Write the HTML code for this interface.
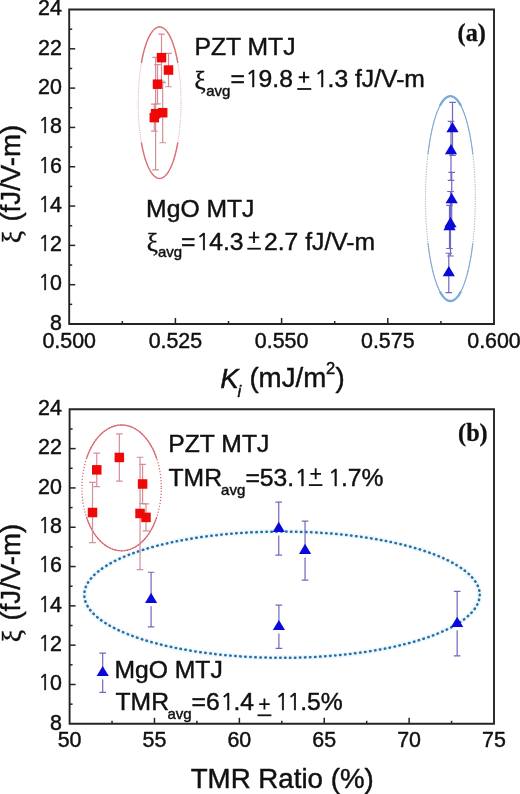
<!DOCTYPE html>
<html><head><meta charset="utf-8"><title>plot</title><style>
html,body{margin:0;padding:0;background:#fff;overflow:hidden;}
svg{display:block;}
text{font-family:"Liberation Sans",Arial,sans-serif;fill:#111;stroke:#111;stroke-width:0.45px;}
.tk{font-size:21.4px;}
.an{font-size:24.7px;}
.sb{font-size:15px;}
.sb2{font-size:16.5px;}
.at{font-size:27.7px;}
.it{font-style:italic;}
.one{font-family:"NanumGothic","Liberation Sans",sans-serif;}
.lb{font-family:"Liberation Serif","Times New Roman",serif;font-weight:bold;font-size:24.2px;stroke-width:0.3px;}
.xi{font-family:"Liberation Serif","Times New Roman",serif;}
.xa4{font-size:100px;stroke-width:1.8px;}
.xy4{font-size:112px;stroke-width:1.8px;}
</style></head><body>
<svg width="520" height="794" viewBox="0 0 520 794">
<rect width="520" height="794" fill="#fff"/>
<ellipse cx="159.6" cy="102.7" rx="21.4" ry="75.8" fill="none" stroke="#dcaab0" stroke-width="1.0" stroke-dasharray="1.1 1.1"/>
<path d="M141.45 62.53 L142.05 59.33 L142.69 56.24 L143.38 53.27 L144.1 50.43 L144.87 47.72 L145.67 45.15 L146.51 42.73 L147.39 40.46 L148.29 38.35 L149.23 36.4 L150.19 34.63 L151.17 33.03 L152.18 31.61 L153.2 30.37 L154.24 29.31 L155.3 28.45 L156.36 27.77 L157.44 27.29 L158.52 27 L159.6 26.9 L160.68 27 L161.76 27.29 L162.84 27.77 L163.9 28.45 L164.96 29.31 L166 30.37 L167.02 31.61 L168.03 33.03 L169.01 34.63 L169.97 36.4 L170.91 38.35 L171.81 40.46 L172.69 42.73 L173.53 45.15 L174.33 47.72 L175.1 50.43 L175.82 53.27 L176.51 56.24 L177.15 59.33 L177.75 62.53" fill="none" stroke="#dc6d76" stroke-width="1.4" stroke-linecap="round"/>
<path d="M177.75 142.87 L177.15 146.07 L176.51 149.16 L175.82 152.13 L175.1 154.97 L174.33 157.68 L173.53 160.25 L172.69 162.67 L171.81 164.94 L170.91 167.05 L169.97 169 L169.01 170.77 L168.03 172.37 L167.02 173.79 L166 175.03 L164.96 176.09 L163.9 176.95 L162.84 177.63 L161.76 178.11 L160.68 178.4 L159.6 178.5 L158.52 178.4 L157.44 178.11 L156.36 177.63 L155.3 176.95 L154.24 176.09 L153.2 175.03 L152.18 173.79 L151.17 172.37 L150.19 170.77 L149.23 169 L148.29 167.05 L147.39 164.94 L146.51 162.67 L145.67 160.25 L144.87 157.68 L144.1 154.97 L143.38 152.13 L142.69 149.16 L142.05 146.07 L141.45 142.87" fill="none" stroke="#dc6d76" stroke-width="1.4" stroke-linecap="round"/>
<ellipse cx="450.4" cy="198.6" rx="24.9" ry="102.4" fill="none" stroke="#9ea6b3" stroke-width="1.0" stroke-dasharray="1.2 1.3"/>
<path d="M428.02 153.71 L428.66 148.64 L429.38 143.73 L430.15 138.99 L430.99 134.44 L431.9 130.08 L432.85 125.94 L433.87 122.03 L434.93 118.35 L436.05 114.92 L437.21 111.76 L438.4 108.87 L439.64 106.25 L440.91 103.93 L442.21 101.9 L443.54 100.17 L444.88 98.74 L446.25 97.63 L447.62 96.84 L449.01 96.36 L450.4 96.2 L451.79 96.36 L453.18 96.84 L454.55 97.63 L455.92 98.74 L457.26 100.17 L458.59 101.9 L459.89 103.93 L461.16 106.25 L462.4 108.87 L463.59 111.76 L464.75 114.92 L465.87 118.35 L466.93 122.03 L467.95 125.94 L468.9 130.08 L469.81 134.44 L470.65 138.99 L471.42 143.73 L472.14 148.64 L472.78 153.71" fill="none" stroke="#82a9d2" stroke-width="1.1" stroke-linecap="round"/>
<path d="M472.78 243.49 L472.14 248.56 L471.42 253.47 L470.65 258.21 L469.81 262.76 L468.9 267.12 L467.95 271.26 L466.93 275.17 L465.87 278.85 L464.75 282.28 L463.59 285.44 L462.4 288.33 L461.16 290.95 L459.89 293.27 L458.59 295.3 L457.26 297.03 L455.92 298.46 L454.55 299.57 L453.18 300.36 L451.79 300.84 L450.4 301 L449.01 300.84 L447.62 300.36 L446.25 299.57 L444.88 298.46 L443.54 297.03 L442.21 295.3 L440.91 293.27 L439.64 290.95 L438.4 288.33 L437.21 285.44 L436.05 282.28 L434.93 278.85 L433.87 275.17 L432.85 271.26 L431.9 267.12 L430.99 262.76 L430.15 258.21 L429.38 253.47 L428.66 248.56 L428.02 243.49" fill="none" stroke="#82a9d2" stroke-width="1.1" stroke-linecap="round"/>
<ellipse cx="450.4" cy="198.6" rx="24.9" ry="102.4" fill="none" stroke="none" stroke-width="0" stroke-dasharray="0"/>
<path d="M440.27 105.05 L440.75 104.2 L441.23 103.39 L441.72 102.62 L442.21 101.9 L442.71 101.21 L443.2 100.57 L443.7 99.97 L444.21 99.42 L444.71 98.91 L445.22 98.44 L445.73 98.01 L446.25 97.63 L446.76 97.3 L447.28 97.01 L447.8 96.76 L448.32 96.56 L448.84 96.4 L449.36 96.29 L449.88 96.22 L450.4 96.2 L450.92 96.22 L451.44 96.29 L451.96 96.4 L452.48 96.56 L453 96.76 L453.52 97.01 L454.04 97.3 L454.55 97.63 L455.07 98.01 L455.58 98.44 L456.09 98.91 L456.59 99.42 L457.1 99.97 L457.6 100.57 L458.09 101.21 L458.59 101.9 L459.08 102.62 L459.57 103.39 L460.05 104.2 L460.53 105.05" fill="none" stroke="#78abdc" stroke-width="2.3" stroke-linecap="round"/>
<path d="M460.53 292.15 L460.05 293 L459.57 293.81 L459.08 294.58 L458.59 295.3 L458.09 295.99 L457.6 296.63 L457.1 297.23 L456.59 297.78 L456.09 298.29 L455.58 298.76 L455.07 299.19 L454.55 299.57 L454.04 299.9 L453.52 300.19 L453 300.44 L452.48 300.64 L451.96 300.8 L451.44 300.91 L450.92 300.98 L450.4 301 L449.88 300.98 L449.36 300.91 L448.84 300.8 L448.32 300.64 L447.8 300.44 L447.28 300.19 L446.76 299.9 L446.25 299.57 L445.73 299.19 L445.22 298.76 L444.71 298.29 L444.21 297.78 L443.7 297.23 L443.2 296.63 L442.71 295.99 L442.21 295.3 L441.72 294.58 L441.23 293.81 L440.75 293 L440.27 292.15" fill="none" stroke="#78abdc" stroke-width="2.3" stroke-linecap="round"/>
<path d="M162.7 82.62V142.77M159.4 82.62H166M159.4 142.77H166" stroke="#d48e98" stroke-width="1.2" fill="none"/>
<path d="M168.5 53.33V86.75M165.2 53.33H171.8M165.2 86.75H171.8" stroke="#d48e98" stroke-width="1.2" fill="none"/>
<path d="M161.5 34.07V81.25M158.2 34.07H164.8M158.2 81.25H164.8" stroke="#d48e98" stroke-width="1.2" fill="none"/>
<path d="M157.5 64.54V103.85M154.2 64.54H160.8M154.2 103.85H160.8" stroke="#d48e98" stroke-width="1.2" fill="none"/>
<path d="M155.6 57.46V169.9M152.3 57.46H158.9M152.3 169.9H158.9" stroke="#d48e98" stroke-width="1.2" fill="none"/>
<path d="M154.3 104.05V131.17M151 104.05H157.6M151 131.17H157.6" stroke="#d48e98" stroke-width="1.2" fill="none"/>
<rect x="157.95" y="107.95" width="9.5" height="9.5" fill="#ee0808"/>
<rect x="163.75" y="65.29" width="9.5" height="9.5" fill="#ee0808"/>
<rect x="156.75" y="52.91" width="9.5" height="9.5" fill="#ee0808"/>
<rect x="152.75" y="79.44" width="9.5" height="9.5" fill="#ee0808"/>
<rect x="150.85" y="108.93" width="9.5" height="9.5" fill="#ee0808"/>
<rect x="149.55" y="112.86" width="9.5" height="9.5" fill="#ee0808"/>
<path d="M451.7 172.45V194.77M451.7 199.77V227.09M448.4 172.45H455M448.4 227.09H455" stroke="#6e68c0" stroke-width="1.2" fill="none"/>
<path d="M452.5 102.28V123.81M452.5 128.81V155.35M449.2 102.28H455.8M449.2 155.35H455.8" stroke="#6e68c0" stroke-width="1.2" fill="none"/>
<path d="M451 121.34V145.83M451 150.83V180.31M447.7 121.34H454.3M447.7 180.31H454.3" stroke="#6e68c0" stroke-width="1.2" fill="none"/>
<path d="M449.5 205.28V221.9M449.5 226.9V248.52M446.2 205.28H452.8M446.2 248.52H452.8" stroke="#6e68c0" stroke-width="1.2" fill="none"/>
<path d="M450.5 191.52V218.75M450.5 223.75V255.99M447.2 191.52H453.8M447.2 255.99H453.8" stroke="#6e68c0" stroke-width="1.2" fill="none"/>
<path d="M448.8 253.24V267.89M448.8 272.89V292.55M445.5 253.24H452.1M445.5 292.55H452.1" stroke="#6e68c0" stroke-width="1.2" fill="none"/>
<path d="M451.7 192.97L457.8 203.17L445.6 203.17Z" fill="#0a0ad8"/>
<path d="M452.5 122.01L458.6 132.21L446.4 132.21Z" fill="#0a0ad8"/>
<path d="M451 144.03L457.1 154.23L444.9 154.23Z" fill="#0a0ad8"/>
<path d="M449.5 220.1L455.6 230.3L443.4 230.3Z" fill="#0a0ad8"/>
<path d="M450.5 216.95L456.6 227.15L444.4 227.15Z" fill="#0a0ad8"/>
<path d="M448.8 266.09L454.9 276.29L442.7 276.29Z" fill="#0a0ad8"/>
<path d="M69.2 9.5H494V324H69.2Z" fill="none" stroke="#242424" stroke-width="1.9"/>
<line x1="69.2" y1="304.34" x2="72.2" y2="304.34" stroke="#242424" stroke-width="1.5"/>
<line x1="69.2" y1="284.69" x2="75.2" y2="284.69" stroke="#242424" stroke-width="1.5"/>
<line x1="69.2" y1="265.03" x2="72.2" y2="265.03" stroke="#242424" stroke-width="1.5"/>
<line x1="69.2" y1="245.38" x2="75.2" y2="245.38" stroke="#242424" stroke-width="1.5"/>
<line x1="69.2" y1="225.72" x2="72.2" y2="225.72" stroke="#242424" stroke-width="1.5"/>
<line x1="69.2" y1="206.06" x2="75.2" y2="206.06" stroke="#242424" stroke-width="1.5"/>
<line x1="69.2" y1="186.41" x2="72.2" y2="186.41" stroke="#242424" stroke-width="1.5"/>
<line x1="69.2" y1="166.75" x2="75.2" y2="166.75" stroke="#242424" stroke-width="1.5"/>
<line x1="69.2" y1="147.09" x2="72.2" y2="147.09" stroke="#242424" stroke-width="1.5"/>
<line x1="69.2" y1="127.44" x2="75.2" y2="127.44" stroke="#242424" stroke-width="1.5"/>
<line x1="69.2" y1="107.78" x2="72.2" y2="107.78" stroke="#242424" stroke-width="1.5"/>
<line x1="69.2" y1="88.12" x2="75.2" y2="88.12" stroke="#242424" stroke-width="1.5"/>
<line x1="69.2" y1="68.47" x2="72.2" y2="68.47" stroke="#242424" stroke-width="1.5"/>
<line x1="69.2" y1="48.81" x2="75.2" y2="48.81" stroke="#242424" stroke-width="1.5"/>
<line x1="69.2" y1="29.16" x2="72.2" y2="29.16" stroke="#242424" stroke-width="1.5"/>
<text x="61.8" y="329.8" class="tk" text-anchor="end">8</text>
<text y="290.49" class="tk"><tspan x="38.37" class="one" style="font-size:20.62px">1</tspan><tspan x="49.9">0</tspan></text>
<text y="251.18" class="tk"><tspan x="38.37" class="one" style="font-size:20.62px">1</tspan><tspan x="49.9">2</tspan></text>
<text y="211.86" class="tk"><tspan x="38.37" class="one" style="font-size:20.62px">1</tspan><tspan x="49.9">4</tspan></text>
<text y="172.55" class="tk"><tspan x="38.37" class="one" style="font-size:20.62px">1</tspan><tspan x="49.9">6</tspan></text>
<text y="133.24" class="tk"><tspan x="38.37" class="one" style="font-size:20.62px">1</tspan><tspan x="49.9">8</tspan></text>
<text x="61.8" y="93.92" class="tk" text-anchor="end">20</text>
<text x="61.8" y="54.61" class="tk" text-anchor="end">22</text>
<text x="61.8" y="15.3" class="tk" text-anchor="end">24</text>
<line x1="122.3" y1="324" x2="122.3" y2="321" stroke="#242424" stroke-width="1.5"/>
<text x="69.2" y="347.5" class="tk" text-anchor="middle">0.500</text>
<line x1="175.4" y1="324" x2="175.4" y2="318" stroke="#242424" stroke-width="1.5"/>
<line x1="228.5" y1="324" x2="228.5" y2="321" stroke="#242424" stroke-width="1.5"/>
<text x="175.4" y="347.5" class="tk" text-anchor="middle">0.525</text>
<line x1="281.6" y1="324" x2="281.6" y2="318" stroke="#242424" stroke-width="1.5"/>
<line x1="334.7" y1="324" x2="334.7" y2="321" stroke="#242424" stroke-width="1.5"/>
<text x="281.6" y="347.5" class="tk" text-anchor="middle">0.550</text>
<line x1="387.8" y1="324" x2="387.8" y2="318" stroke="#242424" stroke-width="1.5"/>
<line x1="440.9" y1="324" x2="440.9" y2="321" stroke="#242424" stroke-width="1.5"/>
<text x="387.8" y="347.5" class="tk" text-anchor="middle">0.575</text>
<text x="494" y="347.5" class="tk" text-anchor="middle">0.600</text>
<ellipse cx="121.6" cy="487.9" rx="39.7" ry="62.9" fill="none" stroke="#d0606c" stroke-width="1.2" stroke-dasharray="1.2 1.8"/>
<path d="M86.55 458.37 L87.61 455.41 L88.76 452.54 L90.02 449.78 L91.37 447.13 L92.8 444.6 L94.32 442.2 L95.92 439.93 L97.6 437.8 L99.34 435.82 L101.15 433.98 L103.02 432.31 L104.95 430.8 L106.92 429.46 L108.94 428.29 L110.99 427.29 L113.08 426.47 L115.18 425.83 L117.31 425.37 L119.45 425.09 L121.6 425 L123.75 425.09 L125.89 425.37 L128.02 425.83 L130.12 426.47 L132.21 427.29 L134.26 428.29 L136.28 429.46 L138.25 430.8 L140.18 432.31 L142.05 433.98 L143.86 435.82 L145.6 437.8 L147.28 439.93 L148.88 442.2 L150.4 444.6 L151.83 447.13 L153.18 449.78 L154.44 452.54 L155.59 455.41 L156.65 458.37" fill="none" stroke="#dc6a74" stroke-width="1.3" stroke-linecap="round"/>
<path d="M156.65 517.43 L155.59 520.39 L154.44 523.26 L153.18 526.02 L151.83 528.67 L150.4 531.2 L148.88 533.6 L147.28 535.87 L145.6 538 L143.86 539.98 L142.05 541.82 L140.18 543.49 L138.25 545 L136.28 546.34 L134.26 547.51 L132.21 548.51 L130.12 549.33 L128.02 549.97 L125.89 550.43 L123.75 550.71 L121.6 550.8 L119.45 550.71 L117.31 550.43 L115.18 549.97 L113.08 549.33 L110.99 548.51 L108.94 547.51 L106.92 546.34 L104.95 545 L103.02 543.49 L101.15 541.82 L99.34 539.98 L97.6 538 L95.92 535.87 L94.32 533.6 L92.8 531.2 L91.37 528.67 L90.02 526.02 L88.76 523.26 L87.61 520.39 L86.55 517.43" fill="none" stroke="#dc6a74" stroke-width="1.3" stroke-linecap="round"/>
<ellipse cx="282" cy="594.7" rx="197.7" ry="63.1" fill="none" stroke="#ecf7fd" stroke-width="5"/>
<ellipse cx="282" cy="594.7" rx="197.7" ry="63.1" fill="none" stroke="#2a6ea2" stroke-width="2.5" stroke-dasharray="0.5 4.5" stroke-linecap="round"/>
<path d="M92.52 482.42V542.57M89.22 482.42H95.82M89.22 542.57H95.82" stroke="#d48e98" stroke-width="1.2" fill="none"/>
<path d="M96.76 453.13V486.55M93.46 453.13H100.06M93.46 486.55H100.06" stroke="#d48e98" stroke-width="1.2" fill="none"/>
<path d="M119.34 433.87V481.05M116.04 433.87H122.64M116.04 481.05H122.64" stroke="#d48e98" stroke-width="1.2" fill="none"/>
<path d="M142.6 464.34V503.65M139.3 464.34H145.9M139.3 503.65H145.9" stroke="#d48e98" stroke-width="1.2" fill="none"/>
<path d="M140.05 457.26V569.69M136.75 457.26H143.35M136.75 569.69H143.35" stroke="#d48e98" stroke-width="1.2" fill="none"/>
<path d="M145.99 503.85V530.97M142.69 503.85H149.29M142.69 530.97H149.29" stroke="#d48e98" stroke-width="1.2" fill="none"/>
<rect x="87.77" y="507.75" width="9.5" height="9.5" fill="#ee0808"/>
<rect x="92.01" y="465.09" width="9.5" height="9.5" fill="#ee0808"/>
<rect x="114.59" y="452.71" width="9.5" height="9.5" fill="#ee0808"/>
<rect x="137.85" y="479.24" width="9.5" height="9.5" fill="#ee0808"/>
<rect x="135.3" y="508.73" width="9.5" height="9.5" fill="#ee0808"/>
<rect x="141.24" y="512.66" width="9.5" height="9.5" fill="#ee0808"/>
<path d="M151.08 572.25V594.57M151.08 606.37V626.89M147.78 572.25H154.38M147.78 626.89H154.38" stroke="#6e68c0" stroke-width="1.2" fill="none"/>
<path d="M278.74 502.08V523.61M278.74 535.41V555.15M275.44 502.08H282.04M275.44 555.15H282.04" stroke="#6e68c0" stroke-width="1.2" fill="none"/>
<path d="M305.06 521.14V545.63M305.06 557.43V580.11M301.76 521.14H308.36M301.76 580.11H308.36" stroke="#6e68c0" stroke-width="1.2" fill="none"/>
<path d="M278.91 605.08V621.7M278.91 633.5V648.32M275.61 605.08H282.21M275.61 648.32H282.21" stroke="#6e68c0" stroke-width="1.2" fill="none"/>
<path d="M457.16 591.32V618.55M457.16 630.35V655.79M453.86 591.32H460.46M453.86 655.79H460.46" stroke="#6e68c0" stroke-width="1.2" fill="none"/>
<path d="M102.7 653.04V667.69M102.7 679.49V692.35M99.4 653.04H106M99.4 692.35H106" stroke="#6e68c0" stroke-width="1.2" fill="none"/>
<path d="M151.08 592.77L157.18 602.97L144.98 602.97Z" fill="#0a0ad8"/>
<path d="M278.74 521.81L284.84 532.01L272.64 532.01Z" fill="#0a0ad8"/>
<path d="M305.06 543.83L311.16 554.03L298.96 554.03Z" fill="#0a0ad8"/>
<path d="M278.91 619.9L285.01 630.1L272.81 630.1Z" fill="#0a0ad8"/>
<path d="M457.16 616.75L463.26 626.95L451.06 626.95Z" fill="#0a0ad8"/>
<path d="M102.7 665.89L108.8 676.09L96.6 676.09Z" fill="#0a0ad8"/>
<path d="M69.6 409.3H494V723.8H69.6Z" fill="none" stroke="#242424" stroke-width="1.9"/>
<line x1="69.6" y1="704.14" x2="72.6" y2="704.14" stroke="#242424" stroke-width="1.5"/>
<line x1="69.6" y1="684.49" x2="75.6" y2="684.49" stroke="#242424" stroke-width="1.5"/>
<line x1="69.6" y1="664.83" x2="72.6" y2="664.83" stroke="#242424" stroke-width="1.5"/>
<line x1="69.6" y1="645.17" x2="75.6" y2="645.17" stroke="#242424" stroke-width="1.5"/>
<line x1="69.6" y1="625.52" x2="72.6" y2="625.52" stroke="#242424" stroke-width="1.5"/>
<line x1="69.6" y1="605.86" x2="75.6" y2="605.86" stroke="#242424" stroke-width="1.5"/>
<line x1="69.6" y1="586.21" x2="72.6" y2="586.21" stroke="#242424" stroke-width="1.5"/>
<line x1="69.6" y1="566.55" x2="75.6" y2="566.55" stroke="#242424" stroke-width="1.5"/>
<line x1="69.6" y1="546.89" x2="72.6" y2="546.89" stroke="#242424" stroke-width="1.5"/>
<line x1="69.6" y1="527.24" x2="75.6" y2="527.24" stroke="#242424" stroke-width="1.5"/>
<line x1="69.6" y1="507.58" x2="72.6" y2="507.58" stroke="#242424" stroke-width="1.5"/>
<line x1="69.6" y1="487.92" x2="75.6" y2="487.92" stroke="#242424" stroke-width="1.5"/>
<line x1="69.6" y1="468.27" x2="72.6" y2="468.27" stroke="#242424" stroke-width="1.5"/>
<line x1="69.6" y1="448.61" x2="75.6" y2="448.61" stroke="#242424" stroke-width="1.5"/>
<line x1="69.6" y1="428.96" x2="72.6" y2="428.96" stroke="#242424" stroke-width="1.5"/>
<text x="61.8" y="729.6" class="tk" text-anchor="end">8</text>
<text y="690.29" class="tk"><tspan x="38.37" class="one" style="font-size:20.62px">1</tspan><tspan x="49.9">0</tspan></text>
<text y="650.97" class="tk"><tspan x="38.37" class="one" style="font-size:20.62px">1</tspan><tspan x="49.9">2</tspan></text>
<text y="611.66" class="tk"><tspan x="38.37" class="one" style="font-size:20.62px">1</tspan><tspan x="49.9">4</tspan></text>
<text y="572.35" class="tk"><tspan x="38.37" class="one" style="font-size:20.62px">1</tspan><tspan x="49.9">6</tspan></text>
<text y="533.04" class="tk"><tspan x="38.37" class="one" style="font-size:20.62px">1</tspan><tspan x="49.9">8</tspan></text>
<text x="61.8" y="493.72" class="tk" text-anchor="end">20</text>
<text x="61.8" y="454.41" class="tk" text-anchor="end">22</text>
<text x="61.8" y="415.1" class="tk" text-anchor="end">24</text>
<line x1="112.04" y1="723.8" x2="112.04" y2="720.8" stroke="#242424" stroke-width="1.5"/>
<text x="69.6" y="747.3" class="tk" text-anchor="middle">50</text>
<line x1="154.48" y1="723.8" x2="154.48" y2="717.8" stroke="#242424" stroke-width="1.5"/>
<line x1="196.92" y1="723.8" x2="196.92" y2="720.8" stroke="#242424" stroke-width="1.5"/>
<text x="154.48" y="747.3" class="tk" text-anchor="middle">55</text>
<line x1="239.36" y1="723.8" x2="239.36" y2="717.8" stroke="#242424" stroke-width="1.5"/>
<line x1="281.8" y1="723.8" x2="281.8" y2="720.8" stroke="#242424" stroke-width="1.5"/>
<text x="239.36" y="747.3" class="tk" text-anchor="middle">60</text>
<line x1="324.24" y1="723.8" x2="324.24" y2="717.8" stroke="#242424" stroke-width="1.5"/>
<line x1="366.68" y1="723.8" x2="366.68" y2="720.8" stroke="#242424" stroke-width="1.5"/>
<text x="324.24" y="747.3" class="tk" text-anchor="middle">65</text>
<line x1="409.12" y1="723.8" x2="409.12" y2="717.8" stroke="#242424" stroke-width="1.5"/>
<line x1="451.56" y1="723.8" x2="451.56" y2="720.8" stroke="#242424" stroke-width="1.5"/>
<text x="409.12" y="747.3" class="tk" text-anchor="middle">70</text>
<text x="494" y="747.3" class="tk" text-anchor="middle">75</text>
<text x="194.5" y="54.8" class="an">PZT MTJ</text>
<text transform="translate(194.6 89) scale(0.25)" class="xi xa4">ξ</text>
<text x="206.2" y="95.6" class="sb">avg</text>
<text y="87.3" class="an"><tspan x="230.4">=</tspan><tspan x="245.25" class="one" style="font-size:23.8px">1</tspan><tspan x="258.56">9.8</tspan></text>
<path d="M298.7 77.25H309.3M304 71.7V82.8" stroke="#111" stroke-width="1.85" fill="none"/>
<rect x="297.3" y="88.1" width="13.95" height="1.8" fill="#111"/>
<text y="87.3" class="an"><tspan x="314.23" class="one" style="font-size:23.8px">1</tspan><tspan x="327.54">.3 fJ/V-m</tspan></text>
<text x="146.1" y="216.5" class="an">MgO MTJ</text>
<text transform="translate(146.8 250.8) scale(0.25)" class="xi xa4">ξ</text>
<text x="157.9" y="257.2" class="sb">avg</text>
<text y="249.8" class="an"><tspan x="181.1">=</tspan><tspan x="195.95" class="one" style="font-size:23.8px">1</tspan><tspan x="209.26">4.3</tspan></text>
<path d="M248.7 237.35H259.3M254 231.8V242.9" stroke="#111" stroke-width="1.85" fill="none"/>
<rect x="247.3" y="247.8" width="13.5" height="1.8" fill="#111"/>
<text x="264" y="249.8" class="an">2.7 fJ/V-m</text>
<text x="457.6" y="40.6" class="lb">(a)</text>
<text x="168.3" y="452.2" class="an">PZT MTJ</text>
<text x="168.5" y="485.5" class="an">TMR</text>
<text x="221.1" y="494.6" class="sb">avg</text>
<text y="485.8" class="an"><tspan x="245.4">=53.</tspan><tspan x="294.59" class="one" style="font-size:23.8px">1</tspan></text>
<path d="M310.4 473.8H321M315.7 468.25V479.35" stroke="#111" stroke-width="1.85" fill="none"/>
<rect x="308.9" y="484.2" width="13.5" height="1.8" fill="#111"/>
<text y="485.8" class="an"><tspan x="327.63" class="one" style="font-size:23.8px">1</tspan><tspan x="340.94">.7%</tspan></text>
<text x="114.4" y="677.5" class="an">MgO MTJ</text>
<text x="115.5" y="710.3" class="an">TMR</text>
<text x="167.4" y="719.3" class="sb">avg</text>
<text y="710.3" class="an"><tspan x="191.6">=6</tspan><tspan x="220.19" class="one" style="font-size:23.8px">1</tspan><tspan x="233.5">.4</tspan></text>
<path d="M259.15 704.05H269.75M264.45 698.5V709.6" stroke="#111" stroke-width="1.85" fill="none"/>
<rect x="257.5" y="714.4" width="13.9" height="1.8" fill="#111"/>
<text y="710.3" class="an"><tspan x="275.03" class="one" style="font-size:23.8px">1</tspan><tspan x="286.93" class="one" style="font-size:23.8px">1</tspan><tspan x="300.24">.5%</tspan></text>
<text x="458.1" y="440.8" class="lb">(b)</text>
<text x="220.2" y="387.6" class="at it">K</text>
<text x="237.6" y="397.2" class="sb2 it">i</text>
<text x="249.4" y="387.4" class="at">(mJ/m</text>
<text x="326" y="374.4" class="sb2">2</text>
<text x="335.5" y="387.4" class="at">)</text>
<text x="190.7" y="788.4" class="at">TMR Ratio (%)</text>
<text transform="translate(21.1 243.2) rotate(-90) scale(0.25)" class="xi xy4">ξ</text>
<text transform="translate(20.2 221.6) rotate(-90)" class="at">(fJ/V-m)</text>
<text transform="translate(21.1 642.2) rotate(-90) scale(0.25)" class="xi xy4">ξ</text>
<text transform="translate(20.2 620.6) rotate(-90)" class="at">(fJ/V-m)</text>
</svg>
</body></html>
